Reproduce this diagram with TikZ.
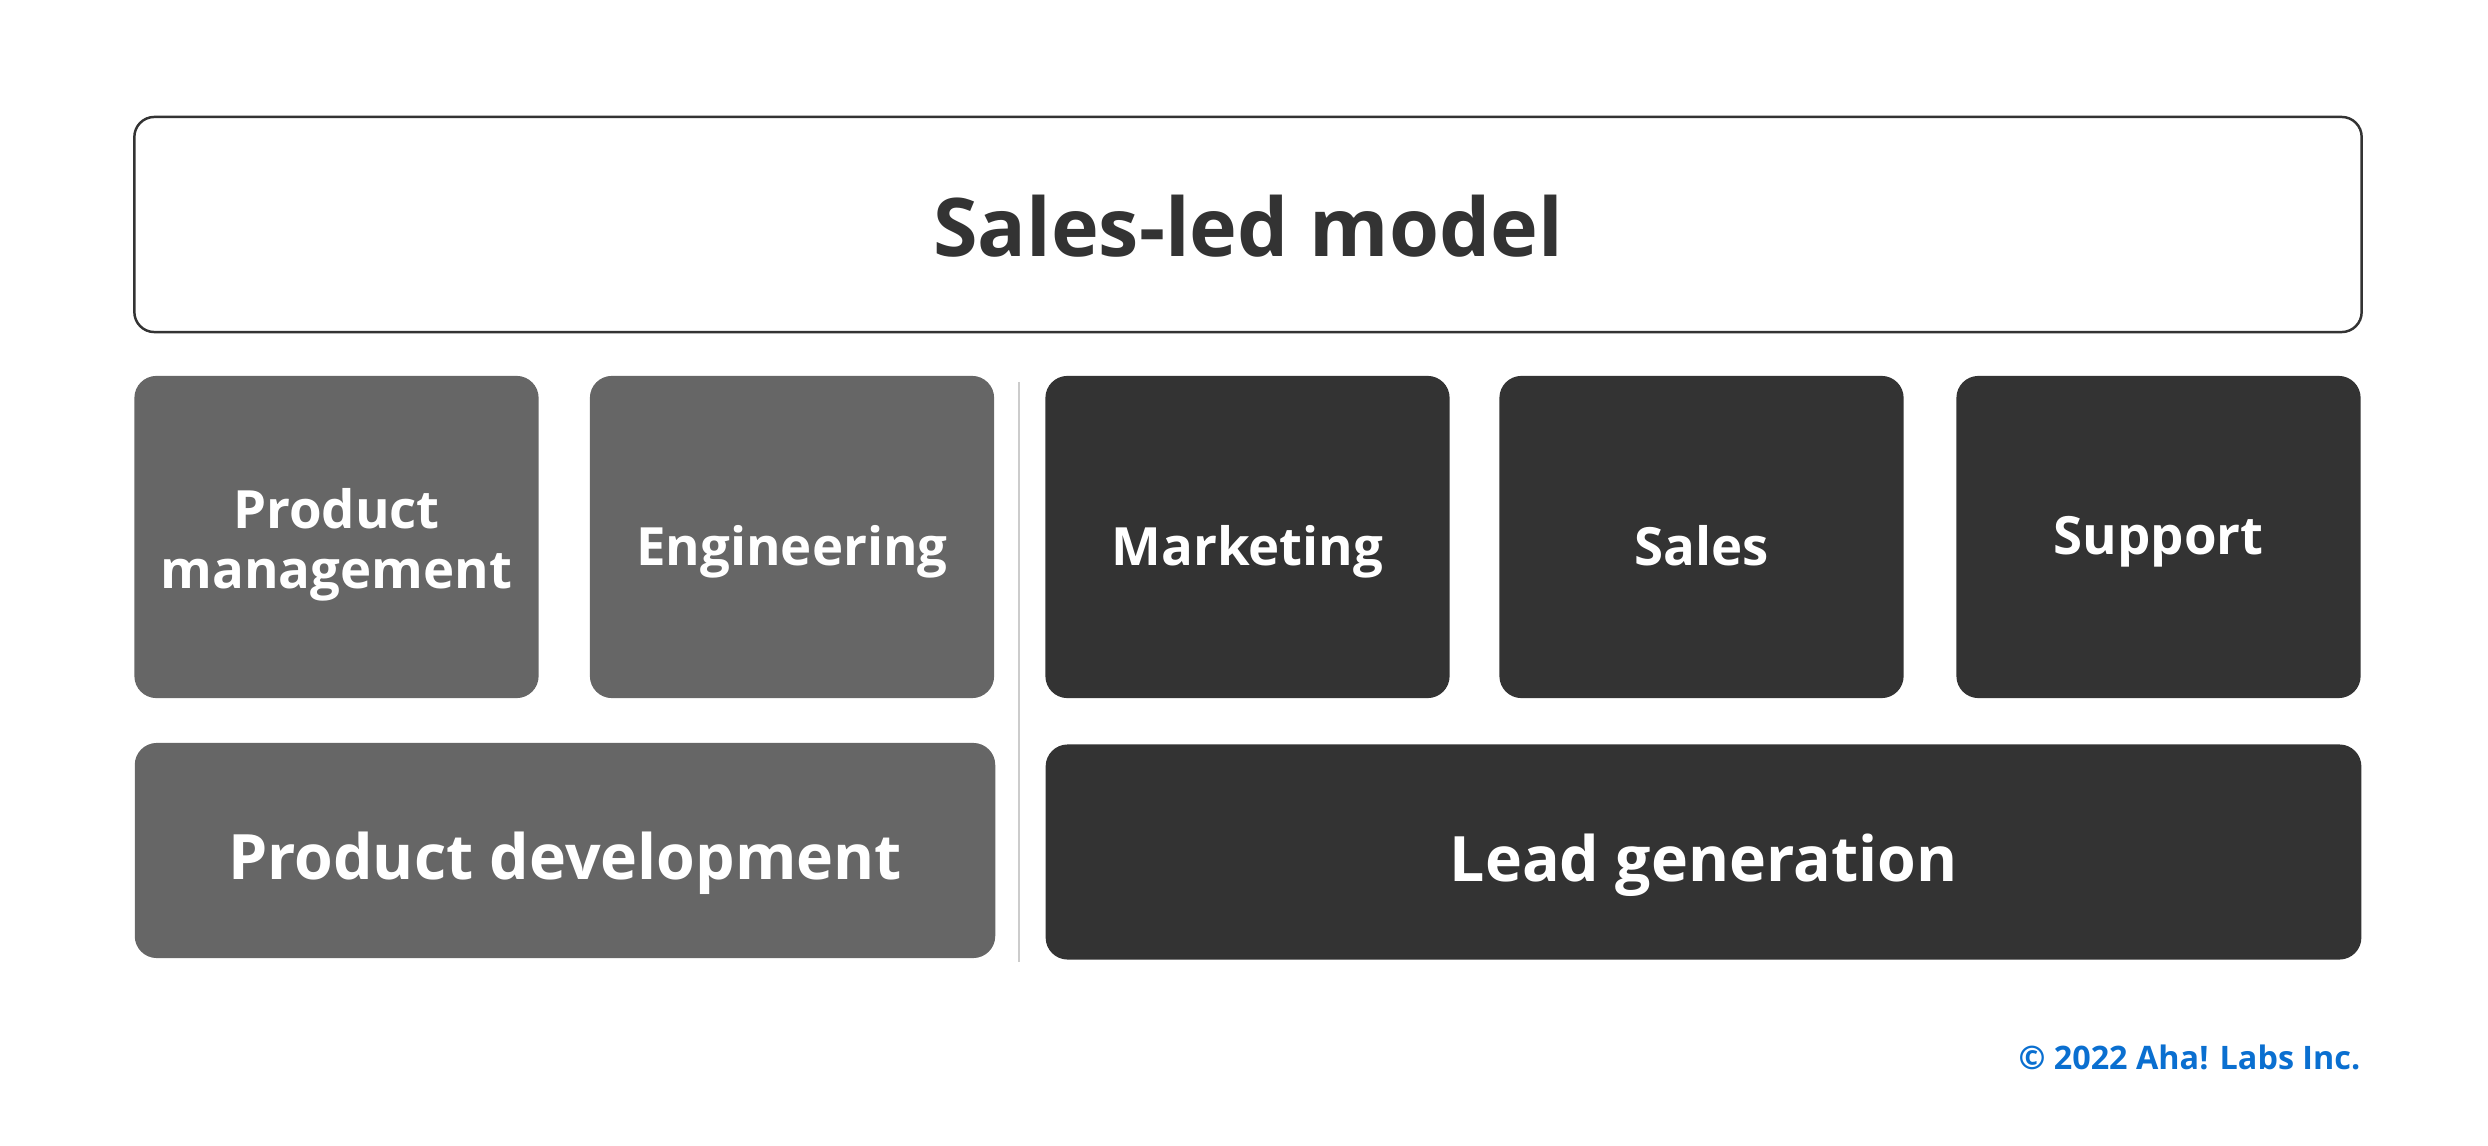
\documentclass[tikz,border=0pt]{standalone}
\usepackage{fontspec}
\setmainfont{Open Sans}
\usepackage{xcolor}
\usetikzlibrary{positioning}
\definecolor{InkDark}{HTML}{333333}
\definecolor{InkGrey}{HTML}{666666}
\definecolor{RuleGrey}{HTML}{CCCCCC}
\definecolor{AhaBlue}{HTML}{0A6FD0}

\tikzset{
  titlebox/.style={draw=InkDark, fill=white, rounded corners=0.2cm,
    line width=0.7pt, minimum width=22.26cm, minimum height=2.15cm,
    inner sep=0pt, outer sep=0pt, align=center,
    text height=0.84cm, text depth=0.2cm,
    font=\fontsize{23}{28}\selectfont\bfseries, text=InkDark},
  teambox/.style={rounded corners=0.22cm, minimum width=4.04cm,
    minimum height=3.22cm, inner sep=0pt, outer sep=0pt, align=center,
    text height=0.68cm, text depth=0.12cm,
    font=\fontsize{15}{17}\selectfont\bfseries, text=white},
  goalbox/.style={rounded corners=0.22cm, minimum height=2.15cm,
    inner sep=0pt, outer sep=0pt, align=center,
    text height=0.73cm, text depth=0.15cm,
    font=\fontsize{17.8}{22}\selectfont\bfseries, text=white},
}

\begin{document}
\begin{tikzpicture}[x=0.01cm, y=-0.01cm]
  \useasboundingbox (0,0) rectangle (2488,1146);

  \node[titlebox] (model) at (1248,224.5) {Sales-led model};

  % product side
  \node[teambox, fill=InkGrey, text height=1.15cm] (pm) at (336.5,537) {Product\\management};
  \node[teambox, fill=InkGrey] (eng) at (792,537) {Engineering};
  \node[goalbox, fill=InkGrey, minimum width=8.60cm] (dev) at (565,850.5) {Product development};

  % sales side
  \node[teambox, fill=InkDark] (mkt)   at (1247.5,537) {Marketing};
  \node[teambox, fill=InkDark] (sales) at (1701.5,537) {Sales};
  \node[teambox, fill=InkDark, text height=0.46cm] (supp) at (2158.5,537) {Support};
  \node[goalbox, fill=InkDark, minimum width=13.15cm] (lead) at (1703.5,852) {Lead generation};

  % divider
  \coordinate (divtop) at (1019,382);
  \coordinate (divbot) at (1019,962);
  \draw[RuleGrey, line width=0.6pt] (divtop) -- (divbot);

  \node[anchor=east, inner sep=0pt, text=AhaBlue,
        font=\fontsize{9.2}{11}\selectfont\bfseries] (copy) at (2361,1057)
    {© 2022 Aha! Labs Inc.};
\end{tikzpicture}
\end{document}
